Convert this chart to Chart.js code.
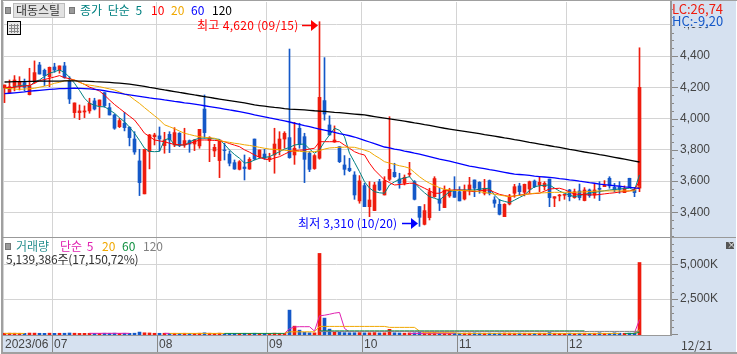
<!DOCTYPE html>
<html>
<head>
<meta charset="utf-8">
<script src="https://cdn.jsdelivr.net/npm/chart.js@4"></script>
<style>
  html, body { margin: 0; padding: 0; background: #fff; overflow: hidden; }
  #wrap { position: relative; width: 737px; height: 354px; font: 12px "Noto Sans CJK KR", "Liberation Sans", sans-serif; }
  #wrap div, #wrap span, #wrap canvas, #wrap svg { position: absolute; }
  #wrap span { white-space: pre; line-height: 14px; }
  .sq { width: 4px; height: 5px; background: #999; border: 1px solid #777; }
</style>
</head>
<body>
<div id="wrap">
  <div style="left:672px;top:1px;width:64px;height:352px;background:#d6e1f0"></div>
  <div style="left:2px;top:336px;width:670px;height:17px;background:#d6e1f0"></div>
  <div style="left:1px;top:0;width:734px;height:351px;border:2px solid #a0a0a0;border-top-width:1px"></div>
  <div style="left:2px;top:237px;width:734px;height:1px;background:#999"></div>
  <div style="left:2px;top:335px;width:670px;height:1px;background:#999"></div>
  <canvas id="price" width="737" height="238" style="left:0;top:0"></canvas>
  <canvas id="volume" width="737" height="116" style="left:0;top:238px"></canvas>

  <div class="sq" style="left:5px;top:7px"></div>
  <div style="left:13px;top:3px;width:50px;height:13px;background:#e2e2e2;border:1px solid #bbb"></div>
  <span style="left:16px;top:3px;color:#333">대동스틸</span>
  <div class="sq" style="left:69px;top:7px"></div>
  <span style="left:80px;top:3px;color:#008080;word-spacing:3px">종가 단순 5</span>
  <span style="left:151px;top:3px;color:#ff0000">10</span>
  <span style="left:171px;top:3px;color:#f0a800">20</span>
  <span style="left:191px;top:3px;color:#0000ff">60</span>
  <span style="left:212px;top:3px;color:#000">120</span>
  <svg style="left:7px;top:21px" width="14" height="14">
    <rect x="0.5" y="0.5" width="13" height="13" fill="#e8e8e8" stroke="#000"/>
    <path d="M2 4.5H12M2 7.5H12M2 10.5H12M4.5 3V12M7.5 3V12M10.5 3V12" stroke="#888" fill="none"/>
  </svg>

  <span style="left:197px;top:18px;color:#ff0000;letter-spacing:.3px">최고 4,620 (09/15)</span>
  <svg style="left:302px;top:19px" width="17" height="13">
    <path d="M0 6.5H10" stroke="#ff0000" stroke-width="1.5"/><path d="M9 1L16 6.5L9 12Z" fill="#ff0000"/>
  </svg>
  <span style="left:298px;top:216px;color:#0000ff;letter-spacing:.15px">최저 3,310 (10/20)</span>
  <svg style="left:402px;top:217px" width="17" height="13">
    <path d="M0 6.5H10" stroke="#0000ff" stroke-width="1.5"/><path d="M9 1L16 6.5L9 12Z" fill="#0000ff"/>
  </svg>

  <div style="left:673px;top:2px;width:50px;height:25px;background:#d6e1f0"></div>
  <span style="left:672px;top:2px;color:#ee1c0e;font-size:13px">LC:26,74</span>
  <span style="left:672px;top:14px;color:#1458c8;font-size:13px">HC:-9,20</span>

  <div class="sq" style="left:5px;top:243px"></div>
  <span style="left:16px;top:239px;color:#2a9090">거래량</span>
  <span style="left:60px;top:239px;color:#e020b0;word-spacing:2px">단순 5</span>
  <span style="left:102px;top:239px;color:#f0a800">20</span>
  <span style="left:122px;top:239px;color:#109040">60</span>
  <span style="left:143px;top:239px;color:#808080">120</span>
  <span style="left:6px;top:252px;color:#333;letter-spacing:-.2px">5,139,386주(17,150,72%)</span>

  <div style="left:726px;top:242px;width:8px;height:7px;background:#555"></div>
  <span style="left:727px;top:238px;color:#fff;font-size:9px">×</span>
  <span style="left:681px;top:338px;color:#444">12/21</span>
</div>
<script>
const opens = [
  4196,4166,4204,4211,4230,4153,4241,4343,4309,4268,
  4330,4311,4337,4245,4038,4038,4042,4049,4113,4083,
  4166,4070,4023,3948,3970,3944,3869,3729,3518,3788,
  3884,3889,3827,3899,3831,3906,3831,3859,3837,3825,
  4061,3859,3793,3731,3799,3773,3718,3675,3690,3677,
  3869,3756,3773,3741,3767,3799,3869,3878,3767,3938,
  3884,3778,3680,3746,4115,3959,3850,3820,3703,3682,
  3639,3473,3571,3436,3411,3596,3511,3611,3656,3613,
  3586,3643,3596,3437,3323,3366,3500,3485,3430,3505,
  3543,3532,3485,3543,3607,3592,3522,3603,3479,3451,
  3372,3453,3522,3569,3528,3549,3600,3575,3564,3613,
  3490,3505,3509,3543,3494,3537,3475,3543,3511,3554,
  3564,3618,3560,3564,3526,3618,3543,3555];
const closes = [
  4215,4204,4247,4232,4200,4209,4294,4285,4275,4328,
  4311,4337,4262,4125,4100,4049,4049,4098,4061,4119,
  4083,4023,3938,3987,3942,3878,3786,3590,3803,3895,
  3895,3869,3863,3863,3910,3827,3859,3837,3863,3931,
  3910,3878,3816,3863,3795,3714,3677,3724,3680,3739,
  3741,3799,3746,3750,3837,3869,3906,3750,3810,3833,
  3739,3675,3763,4136,4029,3895,3863,3724,3675,3667,
  3511,3601,3436,3479,3575,3543,3601,3675,3628,3586,
  3624,3650,3483,3368,3411,3532,3616,3458,3543,3543,
  3496,3473,3543,3575,3554,3543,3554,3522,3458,3387,
  3451,3505,3564,3532,3579,3596,3564,3592,3586,3494,
  3500,3511,3515,3500,3532,3494,3543,3507,3543,3547,
  3575,3569,3545,3547,3554,3564,3526,4200];
const highs = [
  4215,4247,4275,4268,4253,4322,4369,4360,4317,4330,
  4354,4337,4360,4268,4100,4087,4081,4130,4130,4119,
  4166,4098,4029,4002,4040,3948,3916,3803,3803,3899,
  3906,3946,3912,3916,3942,3910,3938,3863,3867,3931,
  4151,3884,3835,3863,3842,3793,3735,3731,3767,3750,
  3869,3799,3803,3778,3938,3916,3916,4445,3976,3970,
  3906,3788,3770,4620,4390,4017,3953,3820,3763,3746,
  3660,3635,3586,3596,3592,3611,3628,4012,3714,3650,
  3639,3720,3603,3437,3450,3554,3628,3554,3569,3554,
  3628,3564,3575,3624,3607,3596,3611,3607,3500,3483,
  3455,3515,3579,3586,3581,3600,3607,3624,3596,3613,
  3500,3515,3517,3547,3549,3581,3558,3549,3581,3596,
  3603,3628,3585,3596,3569,3618,3560,4453];
const lows = [
  4102,4162,4177,4183,4177,4151,4226,4285,4211,4204,
  4296,4290,4258,4096,4006,3993,4006,4034,4055,4006,
  4072,4023,3931,3942,3921,3825,3771,3507,3518,3678,
  3831,3793,3778,3782,3820,3820,3816,3784,3795,3810,
  3874,3724,3756,3622,3735,3697,3675,3671,3607,3675,
  3735,3746,3739,3724,3650,3767,3810,3746,3707,3810,
  3590,3660,3675,3740,3990,3895,3848,3718,3639,3660,
  3483,3458,3436,3372,3411,3539,3511,3603,3624,3554,
  3575,3628,3479,3310,3319,3351,3496,3411,3430,3496,
  3496,3473,3479,3511,3500,3522,3511,3511,3432,3383,
  3372,3447,3496,3511,3505,3522,3558,3532,3543,3436,
  3436,3473,3483,3473,3490,3479,3473,3496,3490,3475,
  3564,3554,3530,3522,3526,3564,3500,3532];

const ma5 = [
  4195,4190,4205,4210,4215,4205,4236,4247,4270,4290,
  4300,4311,4295,4265,4226,4180,4130,4098,4085,4076,
  4076,4055,4034,4005,3980,3945,3906,3860,3810,3790,
  3788,3790,3863,3874,3831,3830,3831,3850,3865,3874,
  3875,3874,3870,3867,3835,3799,3770,3746,3715,3720,
  3735,3746,3752,3756,3772,3788,3805,3815,3831,3835,
  3837,3805,3778,3800,3852,3895,3938,3925,3884,3778,
  3720,3660,3596,3555,3532,3525,3522,3575,3595,3611,
  3620,3628,3590,3554,3525,3500,3490,3479,3505,3532,
  3540,3543,3543,3543,3543,3548,3552,3554,3511,3479,
  3470,3462,3478,3495,3511,3540,3564,3570,3573,3575,
  3555,3536,3522,3510,3500,3508,3515,3522,3528,3533,
  3538,3543,3546,3549,3552,3554,3543,3639];
const ma10 = [
  4200,4198,4200,4205,4208,4212,4226,4243,4250,4258,
  4266,4275,4262,4255,4247,4233,4219,4201,4190,4176,
  4150,4119,4090,4065,4040,4015,3991,3950,3906,3885,
  3863,3857,3852,3842,3835,3832,3831,3840,3852,3863,
  3863,3863,3860,3858,3852,3840,3830,3820,3800,3785,
  3767,3752,3741,3735,3748,3756,3772,3788,3795,3798,
  3799,3805,3810,3852,3852,3852,3852,3852,3830,3810,
  3788,3775,3767,3714,3671,3639,3607,3590,3575,3578,
  3581,3586,3586,3570,3554,3538,3522,3522,3537,3540,
  3543,3543,3540,3536,3532,3537,3542,3543,3528,3515,
  3508,3500,3505,3510,3515,3518,3520,3522,3535,3549,
  3552,3554,3545,3530,3517,3515,3513,3512,3511,3514,
  3518,3522,3525,3530,3533,3537,3545,3600];
const ma20 = [
  4194,4192,4189,4187,4189,4191,4194,4201,4207,4215,
  4226,4232,4241,4245,4247,4232,4219,4214,4209,4204,
  4197,4190,4183,4170,4157,4145,4120,4097,4070,4044,
  4018,3992,3960,3948,3935,3920,3906,3898,3890,3884,
  3880,3877,3874,3860,3852,3848,3842,3838,3832,3828,
  3822,3816,3810,3805,3803,3800,3797,3795,3792,3790,
  3788,3787,3788,3795,3805,3812,3814,3816,3817,3817,
  3816,3808,3798,3788,3765,3746,3724,3715,3707,3698,
  3692,3682,3655,3628,3605,3586,3572,3558,3547,3543,
  3540,3540,3539,3538,3537,3532,3527,3522,3516,3510,
  3505,3500,3505,3508,3513,3518,3522,3524,3525,3527,
  3528,3528,3528,3528,3528,3530,3531,3533,3535,3537,
  3537,3537,3537,3537,3537,3537,3537,3570];
const ma60 = [
  4159,4162,4165,4168,4171,4175,4178,4181,4184,4187,
  4189,4191,4192,4193,4194,4193,4192,4190,4187,4183,
  4178,4173,4168,4163,4157,4152,4147,4142,4137,4132,
  4128,4124,4119,4115,4110,4106,4101,4097,4092,4087,
  4082,4077,4072,4067,4061,4055,4050,4044,4038,4031,
  4023,4017,4011,4004,3998,3991,3985,3978,3970,3963,
  3955,3948,3940,3933,3926,3919,3912,3904,3897,3890,
  3882,3871,3861,3850,3839,3829,3818,3812,3805,3799,
  3792,3786,3779,3773,3765,3757,3749,3741,3734,3727,
  3719,3712,3704,3696,3691,3685,3679,3673,3668,3662,
  3656,3650,3645,3642,3639,3636,3632,3629,3626,3623,
  3620,3616,3613,3608,3604,3599,3595,3590,3586,3581,
  3577,3574,3570,3567,3563,3560,3556,3553];
const ma120 = [
  4234,4235,4236,4236,4237,4238,4238,4239,4239,4240,
  4240,4240,4241,4241,4241,4240,4240,4238,4236,4235,
  4233,4231,4229,4227,4224,4221,4216,4211,4206,4200,
  4195,4189,4183,4178,4173,4167,4162,4157,4151,4146,
  4141,4136,4130,4125,4120,4115,4110,4105,4100,4094,
  4087,4083,4079,4075,4071,4068,4064,4061,4059,4057,
  4055,4053,4050,4048,4046,4043,4040,4038,4035,4032,
  4029,4026,4023,4018,4013,4008,4003,3998,3993,3988,
  3983,3978,3972,3967,3961,3956,3950,3944,3938,3933,
  3928,3923,3918,3913,3908,3903,3897,3892,3887,3882,
  3876,3871,3865,3860,3854,3848,3843,3837,3831,3826,
  3820,3815,3809,3803,3798,3792,3786,3781,3775,3769,
  3764,3758,3752,3746,3740,3734,3728,3722];

// volume in thousands of shares
const volumes = [
  28,34,30,26,22,40,36,24,20,32,
  22,26,28,44,30,18,20,24,18,22,
  30,26,34,20,28,22,30,110,60,48,
  26,24,28,22,24,20,26,18,22,30,
  60,30,20,34,16,22,18,20,24,18,
  28,20,18,16,34,24,22,1698,540,250,
  90,60,55,5795,1120,325,110,90,70,60,
  65,70,55,60,75,50,60,310,60,45,
  35,50,60,80,55,60,70,45,50,35,
  40,35,40,45,55,40,35,40,30,40,
  45,40,35,40,35,30,25,35,30,75,
  30,25,20,35,25,30,35,25,30,60,
  25,25,60,30,25,35,40,5139];
const _ = null;
const volMa5 = [
  _,_,_,_,_,_,_,_,_,_,
  _,_,_,_,_,_,_,20,20,20,
  20,20,20,20,20,20,_,_,_,_,
  _,_,20,20,_,_,_,_,_,_,
  _,_,_,_,_,_,_,_,_,_,
  _,_,_,_,_,_,20,350,480,500,
  500,500,180,1286,1330,1400,1480,1530,375,120,
  _,_,_,_,_,_,_,_,_,_,
  _,15,15,15,15,15,15,15,15,15,
  15,_,_,_,_,_,_,_,_,_,
  _,_,_,_,_,_,_,_,_,_,
  _,_,_,_,_,_,_,_,_,_,
  _,_,_,_,_,_,60,1010];
const volMa20 = [
  15,15,15,15,15,_,_,_,_,_,
  _,_,_,_,_,_,_,_,_,_,
  _,_,_,_,_,_,_,_,_,_,
  _,_,_,15,15,15,15,15,15,15,
  15,15,15,15,15,_,_,_,_,_,
  _,_,_,_,_,_,30,130,130,130,
  130,130,130,520,520,520,520,520,520,520,
  520,520,520,520,520,520,520,450,450,450,
  450,450,450,180,60,60,60,60,60,60,
  60,15,15,15,15,15,15,15,15,15,
  15,15,15,15,15,15,15,15,15,15,
  15,15,15,15,15,15,15,15,15,15,
  15,15,15,15,_,_,20,280];
const volMa60 = [
  _,_,_,_,_,_,_,_,_,_,
  _,_,_,_,_,_,_,_,_,_,
  _,_,_,_,_,_,_,_,_,_,
  _,_,_,_,_,_,_,_,_,_,
  _,_,_,_,15,15,15,15,15,15,
  15,15,15,15,15,15,15,_,_,_,
  _,_,_,200,200,200,200,200,200,200,
  200,200,200,200,200,200,200,200,200,200,
  200,200,200,200,200,200,200,200,200,200,
  200,200,200,200,200,200,200,200,200,200,
  200,200,200,200,200,200,200,200,200,200,
  200,200,200,200,200,200,200,_,_,_,
  _,_,_,_,15,15,15,100];
const volMa120 = [
  _,_,_,_,_,_,_,_,_,_,
  _,_,_,_,_,_,_,_,_,_,
  _,_,_,_,_,_,_,_,_,_,
  _,_,_,_,_,_,_,_,_,_,
  _,_,_,_,_,_,_,_,_,_,
  _,_,_,_,_,_,_,_,_,_,
  _,_,_,150,150,150,150,150,150,150,
  150,150,150,150,150,150,150,150,150,150,
  150,150,150,150,150,150,150,150,150,150,
  150,150,150,150,150,150,150,150,150,150,
  150,150,150,150,150,150,150,150,150,150,
  150,150,150,150,150,150,150,160,160,160,
  160,160,160,160,160,160,160,180];

const monthLabels = ['2023/06', '07', '08', '09', '10', '11', '12'];
const monthStarts = [-0.3, 9.5, 30.5, 52.5, 71.5, 90.5, 112.5];
const volTicks = [0,500,1000,1500,2000,2500,3000,3500,4000,4500,5000,5500,6000,6500];

const RED = '#ee1c0e', BLUE = '#1458c8';
const GRID = '#d4d4d4', AXIS = '#999';
const candleColors = closes.map((c, i) => (c >= opens[i] ? RED : BLUE));
const xy = arr => arr.map((v, i) => ({ x: i, y: v }));

const line = (data, color, width = 1) => ({
  type: 'line', data: xy(data), borderColor: color, borderWidth: width,
  pointRadius: 0, tension: 0, order: 0,
});

const noPad = s => { s.paddingLeft = s.paddingRight = s.paddingTop = s.paddingBottom = 0; };

const xScale = {
  type: 'linear', min: -0.3, max: 133.3, offset: false,
  afterBuildTicks: s => { s.ticks = monthStarts.map(v => ({ value: v })); },
  grid: { color: GRID, drawTicks: false, offset: false },
  border: { display: false },
};

// short and long marks on the right axis
const axisMarks = {
  id: 'axisMarks',
  afterDraw(chart) {
    const { ctx, scales: { y, x } } = chart;
    const major = chart.canvas.id === 'price' ? 200 : 2500;
    ctx.save();
    ctx.strokeStyle = '#888';
    y.ticks.forEach(t => {
      const py = Math.round(y.getPixelForValue(t.value)) + 0.5;
      if (py < y.top || py > y.bottom) return;
      ctx.beginPath();
      ctx.moveTo(x.right + 1, py);
      ctx.lineTo(x.right + (t.value % major === 0 ? 7 : 3), py);
      ctx.stroke();
    });
    if (chart.canvas.id === 'volume') {
      x.ticks.slice(1).forEach(t => {
        const px = Math.round(x.getPixelForValue(t.value)) + 0.5;
        ctx.beginPath();
        ctx.moveTo(px, x.top);
        ctx.lineTo(px, chart.height - 2);
        ctx.stroke();
      });
    }
    ctx.restore();
  },
};

new Chart(document.getElementById('price'), {
  data: {
    datasets: [
      line(ma120, '#000', 1.3),
      line(ma60, '#0000ff', 1.3),
      line(ma20, '#f0a800'),
      line(ma10, '#ff0000'),
      line(ma5, '#008080'),
      {
        type: 'bar', order: 1, grouped: false, barThickness: 3,
        data: closes.map((c, i) => ({ x: i, y: [opens[i], c] })),
        backgroundColor: candleColors,
      },
      {
        type: 'bar', order: 2, grouped: false, barThickness: 1,
        data: highs.map((h, i) => ({ x: i, y: [lows[i], h] })),
        backgroundColor: candleColors,
      },
    ],
  },
  options: {
    responsive: false,
    animation: false,
    layout: { padding: { left: 3, top: 2, bottom: 1 } },
    plugins: { legend: { display: false }, tooltip: { enabled: false } },
    scales: {
      x: { ...xScale, ticks: { display: false }, afterFit: s => { s.height = 0; noPad(s); } },
      y: {
        position: 'right', min: 3242, max: 4746,
        afterFit: s => { s.width = 66; noPad(s); },
        border: { color: AXIS, width: 2 },
        grid: { drawTicks: false, color: c => (c.tick.value % 200 === 0 ? GRID : 'transparent') },
        ticks: {
          stepSize: 50, includeBounds: false, autoSkip: false, padding: 9,
          color: '#444', font: { family: 'Liberation Sans', size: 12 },
          callback: v => (v % 200 === 0 ? v.toLocaleString('en-US') : ''),
        },
      },
    },
  },
  plugins: [axisMarks],
});

new Chart(document.getElementById('volume'), {
  data: {
    datasets: [
      line(volMa120, '#808080'),
      line(volMa60, '#109040'),
      line(volMa20, '#f0a800'),
      line(volMa5, '#e020b0'),
      {
        type: 'bar', order: 1, grouped: false, barThickness: 3, base: -100,
        data: xy(volumes),
        backgroundColor: candleColors,
      },
    ],
  },
  options: {
    responsive: false,
    animation: false,
    layout: { padding: { left: 3 } },
    plugins: { legend: { display: false }, tooltip: { enabled: false } },
    scales: {
      x: {
        ...xScale,
        afterFit: s => { s.height = 19; noPad(s); },
        ticks: {
          autoSkip: false, maxRotation: 0, align: 'start', labelOffset: 2, padding: 2,
          color: '#444', font: { family: 'Liberation Sans', size: 12 },
          callback: (v, i) => monthLabels[i],
        },
      },
      y: {
        position: 'right', min: -100, max: 6909,
        afterBuildTicks: s => { s.ticks = volTicks.map(v => ({ value: v })); },
        afterFit: s => { s.width = 66; noPad(s); },
        border: { color: AXIS, width: 2 },
        grid: { drawTicks: false, color: c => (c.tick.value % 2500 === 0 && c.tick.value > 0 ? GRID : 'transparent') },
        ticks: {
          autoSkip: false, padding: 9,
          color: '#444', font: { family: 'Liberation Sans', size: 12 },
          callback: v => (v > 0 && v % 2500 === 0 ? v.toLocaleString('en-US') + 'K' : ''),
        },
      },
    },
  },
  plugins: [axisMarks],
});
</script>
</body>
</html>
